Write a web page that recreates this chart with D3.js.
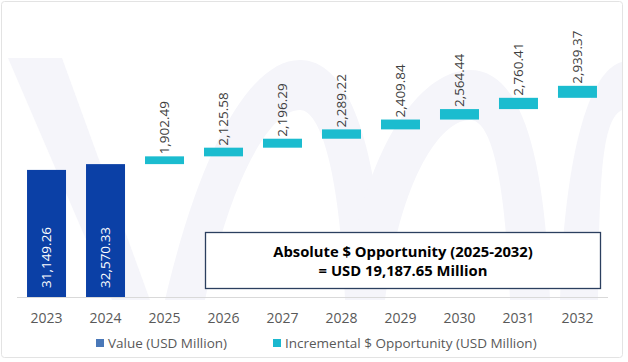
<!DOCTYPE html>
<html lang="en">
<head>
    <meta charset="UTF-8">
    <title>Waterfall - Absolute $ Opportunity</title>
    <script src="https://d3js.org/d3.v7.min.js"></script>
    <style>
        body {
            margin: 0;
            padding: 0;
            background: #fff;
            font-family: "Open Sans", "Noto Sans", Arial, sans-serif;
        }
        .year { font-size: 14px; fill: #595959; }
        .lbl { font-size: 13.5px; fill: #404040; }
        .legend { font-size: 13.5px; fill: #595959; }
    </style>
</head>
<body>
    <svg width="628" height="362"></svg>
    <script>
        // Chart data
        const years = ["2023", "2024", "2025", "2026", "2027", "2028", "2029", "2030", "2031", "2032"];
        const baseYears = ["2023", "2024"];
        const baseValues = [31149.26, 32570.33];
        const increments = [1902.49, 2125.58, 2196.29, 2289.22, 2409.84, 2564.44, 2760.41, 2939.37];
        const legendLabels = ["Value (USD Million)", "Incremental $ Opportunity (USD Million)"];
        const boxLines = ["Absolute $ Opportunity (2025-2032)", "= USD 19,187.65 Million"];

        const svg = d3.select("svg");
        const fmt = d3.format(",.2f");

        // outer frame
        svg.append("rect")
            .attr("x", 1.5).attr("y", 1.5)
            .attr("width", 621).attr("height", 356)
            .attr("rx", 3)
            .attr("fill", "#fff")
            .attr("stroke", "#e3e3e3");

        // faint watermark shapes
        const wm = svg.append("g").attr("fill", "#f5f5fa");
        wm.append("path").attr("d", "M8,58 L62,58 L150,300 L112,300 Z");
        wm.append("path").attr("d", "M165,300 C200,150 250,60 300,60 C350,60 380,150 385,300 L345,300 C340,170 320,110 300,110 C270,110 230,180 205,300 Z");
        wm.append("path").attr("d", "M345,300 C360,150 420,70 470,70 C520,70 545,150 550,300 L510,300 C505,170 490,120 470,120 C440,120 400,180 385,300 Z");
        wm.append("path").attr("d", "M560,300 C565,150 590,70 622,62 L622,110 C600,120 600,190 598,300 Z");

        // scales
        const x = d3.scaleBand()
            .domain(years)
            .range([17, 607])
            .paddingInner(0.339)
            .paddingOuter(0.17);

        const y = d3.scaleLinear()
            .domain([0, 60000])
            .range([297, 52.2]);

        // build waterfall segments from the data
        const bases = baseYears.map((yr, i) => ({ year: yr, v0: 0, v1: baseValues[i], value: baseValues[i] }));
        let running = baseValues[baseValues.length - 1];
        const steps = increments.map((inc, i) => {
            const d = { year: years[i + 2], v0: running, v1: running + inc, value: inc };
            running += inc;
            return d;
        });

        // value bars
        svg.append("g")
            .selectAll("rect")
            .data(bases)
            .join("rect")
            .attr("x", d => x(d.year))
            .attr("y", d => y(d.v1))
            .attr("width", x.bandwidth())
            .attr("height", d => y(d.v0) - y(d.v1))
            .attr("fill", "#0b40a6");

        // incremental bars
        svg.append("g")
            .selectAll("rect")
            .data(steps)
            .join("rect")
            .attr("x", d => x(d.year))
            .attr("y", d => y(d.v1))
            .attr("width", x.bandwidth())
            .attr("height", d => y(d.v0) - y(d.v1))
            .attr("fill", "#1bbccf");

        // axis line
        svg.append("line")
            .attr("x1", 17).attr("x2", 608)
            .attr("y1", 297.5).attr("y2", 297.5)
            .attr("stroke", "#d9d9d9");

        // year labels
        svg.append("g")
            .selectAll("text")
            .data(years)
            .join("text")
            .attr("class", "year")
            .attr("x", d => x(d) + x.bandwidth() / 2)
            .attr("y", 323)
            .attr("text-anchor", "middle")
            .text(d => d);

        // labels inside value bars (white, vertical)
        svg.append("g")
            .selectAll("text")
            .data(bases)
            .join("text")
            .attr("class", "lbl")
            .style("fill", "#fff")
            .attr("transform", d => `translate(${x(d.year) + x.bandwidth() / 2},${y(0) - 9}) rotate(-90)`)
            .attr("dy", "0.35em")
            .text(d => fmt(d.value));

        // labels above incremental bars
        svg.append("g")
            .selectAll("text")
            .data(steps)
            .join("text")
            .attr("class", "lbl")
            .attr("transform", d => `translate(${x(d.year) + x.bandwidth() / 2},${y(d.v1) - 2}) rotate(-90)`)
            .attr("dy", "0.35em")
            .text(d => fmt(d.value));

        // summary box
        svg.append("rect")
            .attr("x", 205.5).attr("y", 232.5)
            .attr("width", 395).attr("height", 56)
            .attr("fill", "#fff")
            .attr("stroke", "#2b3f5f")
            .attr("stroke-width", 1.3);

        svg.append("g")
            .selectAll("text")
            .data(boxLines)
            .join("text")
            .attr("x", 403)
            .attr("y", (d, i) => 257 + i * 19)
            .attr("text-anchor", "middle")
            .attr("font-size", "14.8px")
            .attr("font-weight", "bold")
            .attr("fill", "#000")
            .text(d => d);

        // legend
        const legendX = [96, 273];
        const legendColors = ["#4a78b8", "#1bb8cf"];
        const leg = svg.append("g")
            .selectAll("g")
            .data(legendLabels)
            .join("g")
            .attr("transform", (d, i) => `translate(${legendX[i]},343)`);
        leg.append("rect")
            .attr("x", 0).attr("y", -4)
            .attr("width", 8).attr("height", 8)
            .attr("fill", (d, i) => legendColors[i]);
        leg.append("text")
            .attr("class", "legend")
            .attr("x", 12)
            .attr("dy", "0.35em")
            .text(d => d);
    </script>
</body>
</html>
